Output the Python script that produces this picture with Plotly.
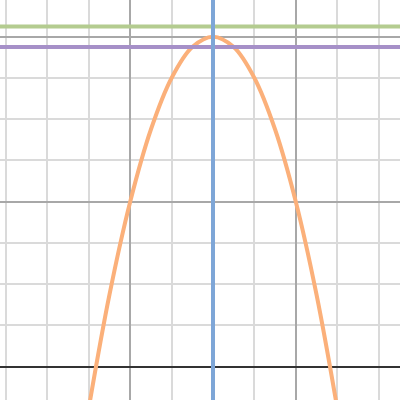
import plotly.graph_objects as go

# curve points (parabola, vertex at x=10, y=8)
curve_x = [6.8, 7.0, 7.5, 8.0, 8.5, 9.0, 9.5, 10.0, 10.5, 11.0, 11.5, 12.0, 12.5, 13.0, 13.2]
curve_y = [-2.24, -1.0, 1.75, 4.0, 5.75, 7.0, 7.75, 8.0, 7.75, 7.0, 5.75, 4.0, 1.75, -1.0, -2.24]

vertical_x = 10
upper_y = 8.25
lower_y = 7.75

x_range = [4.855, 14.517]
y_range = [-0.807, 8.89]

fig = go.Figure()

fig.add_trace(go.Scatter(x=curve_x, y=curve_y, mode="lines",
                         line=dict(color="#fbb07a", width=4, shape="spline"),
                         hoverinfo="skip"))

fig.add_hline(y=upper_y, line=dict(color="#b4cc90", width=4))
fig.add_hline(y=lower_y, line=dict(color="#a690c8", width=4))
fig.add_vline(x=vertical_x, line=dict(color="#7ea6d7", width=4))

axis_style = dict(
    showticklabels=False, ticks="",
    dtick=4, tick0=0,
    showgrid=True, gridcolor="#a8a8a8", gridwidth=1.5,
    minor=dict(dtick=1, tick0=0, showgrid=True, gridcolor="#dadada", gridwidth=1.5),
    showline=False,
)

fig.update_layout(
    width=400, height=400,
    margin=dict(l=0, r=0, t=0, b=0),
    paper_bgcolor="white", plot_bgcolor="white",
    showlegend=False,
    xaxis=dict(range=x_range, zeroline=False, fixedrange=True, **axis_style),
    yaxis=dict(range=y_range, zeroline=True, zerolinecolor="#333333", zerolinewidth=2,
               fixedrange=True, **axis_style),
)

# drop the page margin so the 400x400 figure sits flush in the window
fig.write_html("out.html",
               config={"displayModeBar": False},
               post_script="document.body.style.margin='0';document.body.style.overflow='hidden';")
